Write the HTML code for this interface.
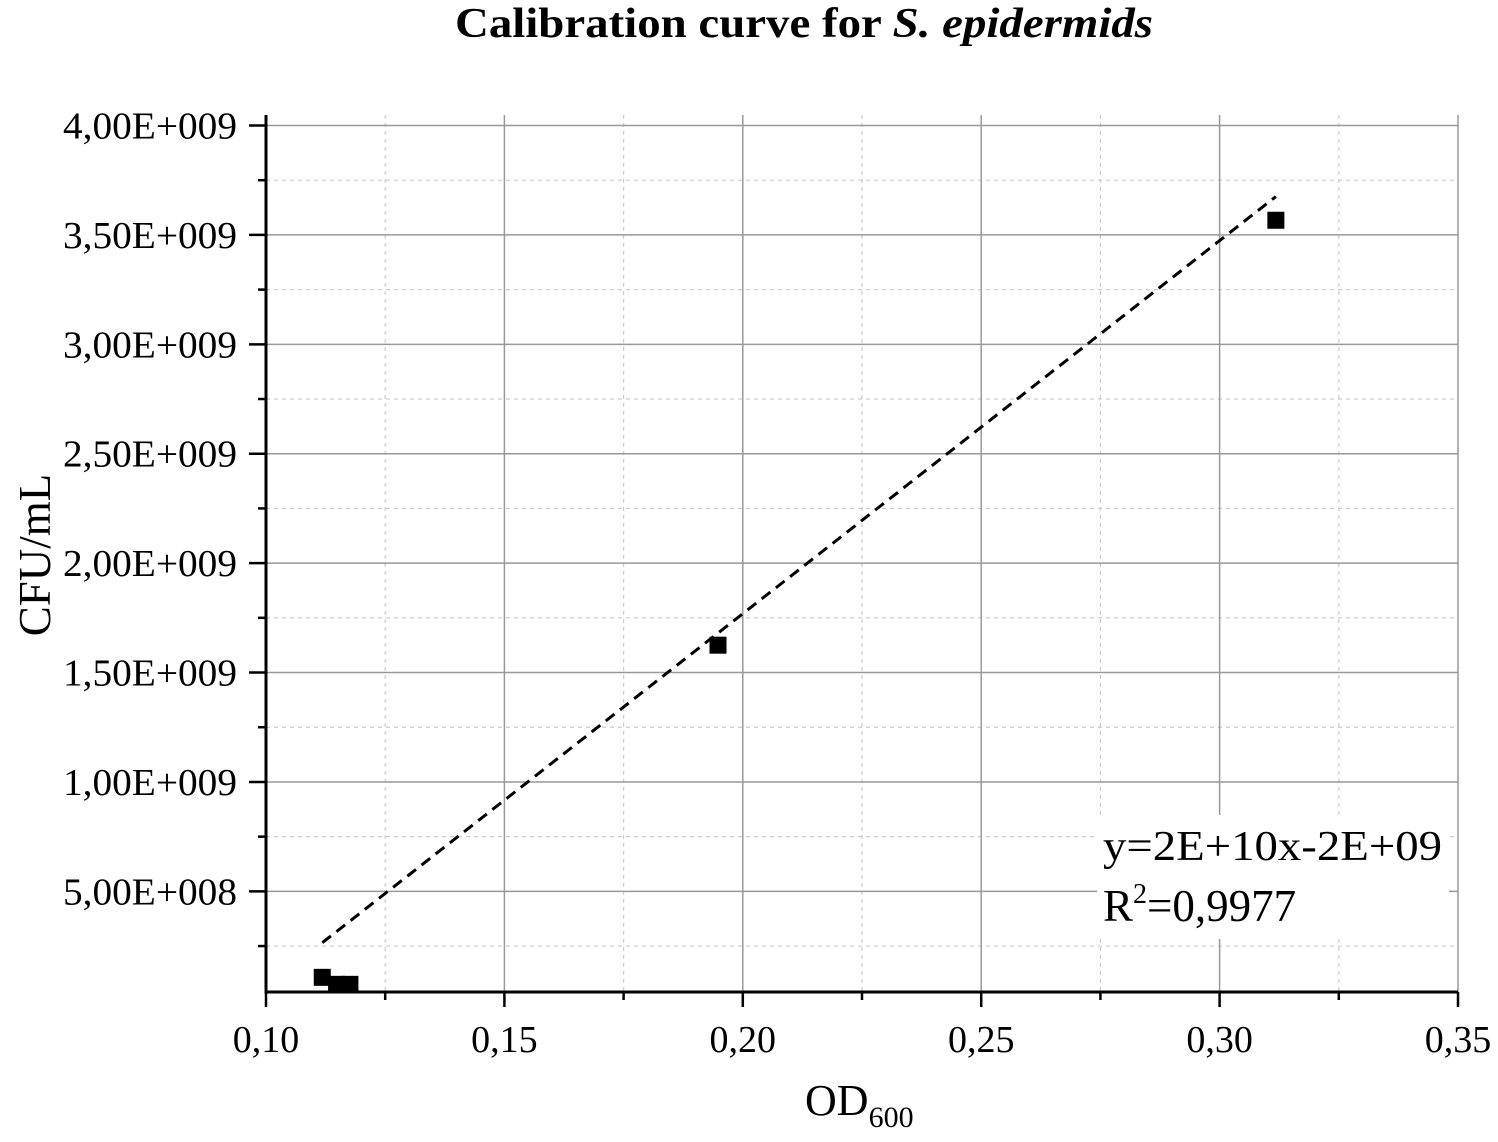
<!DOCTYPE html>
<html><head><meta charset="utf-8"><style>
html,body{margin:0;padding:0;background:#fff;}
svg{display:block;font-family:"Liberation Serif",serif;}
</style></head><body>
<svg id="chart" width="1498" height="1142" viewBox="0 0 1498 1142" xmlns="http://www.w3.org/2000/svg">
<text x="455" y="37" font-size="42" font-weight="bold" textLength="698" lengthAdjust="spacingAndGlyphs">Calibration curve for <tspan font-style="italic">S. epidermids</tspan></text>
<g id="grid"></g>
<g id="fit"></g>
<g id="points"></g>
<rect x="1097" y="815" width="352" height="124" fill="#fff"/>
<text x="1103" y="860" font-size="42" textLength="339" lengthAdjust="spacingAndGlyphs">y=2E+10x-2E+09</text>
<text x="1103" y="921" font-size="45">R<tspan font-size="28" dy="-18">2</tspan><tspan dy="18">=0,9977</tspan></text>
<g id="axes"></g>
<text transform="translate(50,555) rotate(-90)" text-anchor="middle" font-size="45">CFU/mL</text>
<text x="805" y="1115" font-size="44">OD<tspan font-size="30" dy="12">600</tspan></text>
</svg>
<script>
const xTicks = [0.10, 0.15, 0.20, 0.25, 0.30, 0.35];
const xTickLabels = ["0,10", "0,15", "0,20", "0,25", "0,30", "0,35"];
const yTicks = [0.5e9, 1.0e9, 1.5e9, 2.0e9, 2.5e9, 3.0e9, 3.5e9, 4.0e9];
const yTickLabels = ["5,00E+008", "1,00E+009", "1,50E+009", "2,00E+009", "2,50E+009", "3,00E+009", "3,50E+009", "4,00E+009"];
const odValues = [0.1118, 0.1148, 0.1176, 0.1948, 0.3118];
const cfuValues = [1.07e8, 0.75e8, 0.75e8, 1.625e9, 3.567e9];
const fitSlope = [17.05e9];
const fitIntercept = [-1.641e9];

const NS = "http://www.w3.org/2000/svg";
const X0 = 266, X1 = 1458, Y0 = 992, Y1 = 125.5;
const xMin = 0.10, xMax = 0.35, yMin = 0.04e9, yMax = 4.0e9;
const xs = v => X0 + (v - xMin) / (xMax - xMin) * (X1 - X0);
const ys = v => Y0 - (v - yMin) / (yMax - yMin) * (Y0 - Y1);
function mk(tag, attrs, parent) {
  const e = document.createElementNS(NS, tag);
  for (const k in attrs) e.setAttribute(k, attrs[k]);
  parent.appendChild(e);
  return e;
}
const grid = document.getElementById('grid');
const axes = document.getElementById('axes');
for (let i = 0; i < xTicks.length - 1; i++) {
  const m = (xTicks[i] + xTicks[i + 1]) / 2;
  const l = mk('line', {x1: xs(m), x2: xs(m), y1: 115, y2: Y0, stroke: '#ccc', 'stroke-width': 1.2, 'stroke-dasharray': '4,4'}, grid);
  
  
  const t = mk('line', {x1: xs(m), x2: xs(m), y1: Y0, y2: Y0 + 8, stroke: '#000', 'stroke-width': 2.5}, axes);
  
  
}
const yAll = [0].concat(yTicks);
for (let i = 0; i < yAll.length - 1; i++) {
  const m = (yAll[i] + yAll[i + 1]) / 2;
  const l = mk('line', {x1: X0, x2: X1, y1: ys(m), y2: ys(m), stroke: '#ccc', 'stroke-width': 1.2, 'stroke-dasharray': '4,4'}, grid);
  
  
  const t = mk('line', {x1: X0 - 8, x2: X0, y1: ys(m), y2: ys(m), stroke: '#000', 'stroke-width': 2.5}, axes);
  
  
}
xTicks.forEach((v, i) => {
  if (i > 0) {
    const l = mk('line', {x1: xs(v), x2: xs(v), y1: 115, y2: Y0, stroke: '#999', 'stroke-width': 1.5}, grid);
    
    
  }
  const t = mk('line', {x1: xs(v), x2: xs(v), y1: Y0, y2: Y0 + 15, stroke: '#000', 'stroke-width': 2.5}, axes);
  
  
  const tx = mk('text', {x: xs(v), y: 1052, 'text-anchor': 'middle', 'font-size': 38}, axes);
  tx.textContent = xTickLabels[i];
  
  
});
yTicks.forEach((v, i) => {
  const l = mk('line', {x1: X0, x2: X1, y1: ys(v), y2: ys(v), stroke: '#999', 'stroke-width': 1.5}, grid);
  
  
  const t = mk('line', {x1: X0 - 17, x2: X0, y1: ys(v), y2: ys(v), stroke: '#000', 'stroke-width': 2.5}, axes);
  
  
  const tx = mk('text', {x: 237, y: ys(v) + 13, 'text-anchor': 'end', 'font-size': 38, textLength: 174, lengthAdjust: 'spacingAndGlyphs'}, axes);
  tx.textContent = yTickLabels[i];
  
  
});
const ax = mk('line', {x1: X0, x2: X0, y1: 115, y2: Y0 + 1.5, stroke: '#000', 'stroke-width': 3}, axes);


const bx = mk('line', {x1: X0 - 1.5, x2: X1, y1: Y0, y2: Y0, stroke: '#000', 'stroke-width': 3}, axes);


const fx0 = Math.min(...odValues), fx1 = Math.max(...odValues);
const fit = mk('line', {x1: xs(fx0), y1: ys(fitSlope[0] * fx0 + fitIntercept[0]), x2: xs(fx1), y2: ys(fitSlope[0] * fx1 + fitIntercept[0]), stroke: '#000', 'stroke-width': 3, 'stroke-dasharray': '11,7'}, document.getElementById('fit'));


const pts = document.getElementById('points');
odValues.forEach((v, i) => {
  const r = mk('rect', {x: xs(v) - 8.5, y: ys(cfuValues[i]) - 8.5, width: 17, height: 17, fill: '#000'}, pts);
  
  
});
</script>
</body></html>
